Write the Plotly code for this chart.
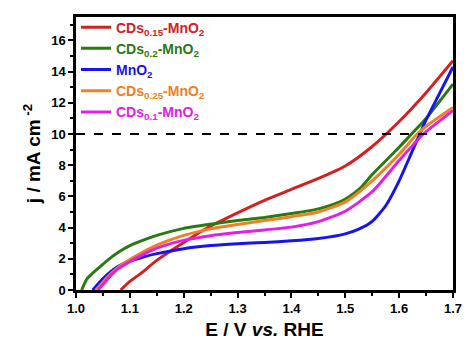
import plotly.graph_objects as go

# E (V vs RHE) and j (mA cm^-2)
E_red = [1.083, 1.10, 1.12, 1.15, 1.20, 1.25, 1.30, 1.35, 1.40, 1.45, 1.50, 1.55, 1.60, 1.65, 1.70]
j_red = [0.0, 0.55, 1.05, 1.9, 3.05, 4.1, 4.95, 5.75, 6.45, 7.15, 7.95, 9.2, 10.8, 12.65, 14.7]

E_green = [1.0105, 1.02, 1.03, 1.045, 1.06, 1.08, 1.10, 1.125, 1.15, 1.20, 1.25, 1.30, 1.35, 1.40, 1.45, 1.49, 1.51, 1.53, 1.55, 1.60, 1.623, 1.65, 1.70]
j_green = [0.0, 0.7, 1.05, 1.5, 1.95, 2.45, 2.85, 3.2, 3.5, 3.95, 4.22, 4.45, 4.65, 4.9, 5.2, 5.65, 6.05, 6.6, 7.4, 9.15, 10.0, 11.0, 13.2]

E_blue = [1.031, 1.045, 1.06, 1.08, 1.10, 1.125, 1.15, 1.20, 1.25, 1.30, 1.35, 1.40, 1.45, 1.50, 1.525, 1.55, 1.575, 1.60, 1.625, 1.65, 1.675, 1.70]
j_blue = [0.0, 0.55, 1.05, 1.55, 1.85, 2.12, 2.33, 2.65, 2.85, 2.97, 3.05, 3.15, 3.3, 3.6, 3.9, 4.4, 5.4, 7.0, 8.95, 10.9, 12.6, 14.3]

E_orange = [1.037, 1.045, 1.06, 1.08, 1.10, 1.125, 1.15, 1.20, 1.25, 1.30, 1.35, 1.40, 1.45, 1.50, 1.55, 1.60, 1.632, 1.65, 1.70]
j_orange = [0.0, 0.3, 0.9, 1.5, 1.95, 2.45, 2.88, 3.5, 3.92, 4.2, 4.45, 4.7, 5.0, 5.65, 7.0, 8.7, 9.95, 10.5, 11.7]

E_mag = [1.041, 1.05, 1.065, 1.08, 1.10, 1.125, 1.15, 1.20, 1.25, 1.30, 1.35, 1.40, 1.45, 1.50, 1.55, 1.60, 1.645, 1.70]
j_mag = [0.0, 0.35, 0.95, 1.4, 1.82, 2.28, 2.68, 3.18, 3.48, 3.68, 3.85, 4.03, 4.38, 5.05, 6.3, 8.3, 10.0, 11.5]

names = [
    '<span style="color:#d42020">CDs<sub>0.15</sub>-MnO<sub>2</sub></span>',
    '<span style="color:#2a7a12">CDs<sub>0.2</sub>-MnO<sub>2</sub></span>',
    '<span style="color:#1515f0">MnO<sub>2</sub></span>',
    '<span style="color:#f08020">CDs<sub>0.25</sub>-MnO<sub>2</sub></span>',
    '<span style="color:#e020e8">CDs<sub>0.1</sub>-MnO<sub>2</sub></span>',
]
colors = ["#d42020", "#2a7a12", "#1515f0", "#f08020", "#e020e8"]
series = [(E_red, j_red), (E_green, j_green), (E_blue, j_blue), (E_orange, j_orange), (E_mag, j_mag)]

fig = go.Figure()
for (x, y), n, c in zip(series, names, colors):
    fig.add_trace(go.Scatter(x=x, y=y, mode="lines", name=n,
                             line=dict(color=c, width=3, shape="spline", smoothing=0.6)))

fig.add_hline(y=10, line=dict(color="black", width=2, dash="dash"))

font = "Liberation Sans, Arial, sans-serif"
fig.update_layout(
    width=474, height=350,
    margin=dict(l=76, r=21, t=15, b=53),
    paper_bgcolor="white", plot_bgcolor="white",
    font=dict(family=font, color="black"),
    showlegend=True,
    legend=dict(x=0.0, y=1.02, xanchor="left", yanchor="top",
                bgcolor="rgba(0,0,0,0)", font=dict(size=14, family=font, weight="bold"),
                itemwidth=30, tracegroupgap=0, traceorder="normal"),
    xaxis=dict(range=[1.0, 1.7], dtick=0.1, tickformat=".1f",
               showline=True, linewidth=2.5, linecolor="black", mirror=True,
               ticks="outside", ticklen=5, tickwidth=2, tickcolor="black",
               minor=dict(dtick=0.05, ticks="outside", ticklen=3, tickwidth=2, tickcolor="black"),
               showgrid=False, zeroline=False,
               tickfont=dict(size=13, family=font, weight="bold"),
               title=dict(text="E / V <i>vs.</i> RHE", font=dict(size=19, family=font, weight="bold"), standoff=8)),
    yaxis=dict(range=[0, 17.5], dtick=2,
               showline=True, linewidth=2.5, linecolor="black", mirror=True,
               ticks="outside", ticklen=5, tickwidth=2, tickcolor="black",
               minor=dict(dtick=1, ticks="outside", ticklen=3, tickwidth=2, tickcolor="black"),
               showgrid=False, zeroline=False,
               tickfont=dict(size=13, family=font, weight="bold"),
               title=dict(text="j / mA cm<sup> -2</sup>", font=dict(size=19, family=font, weight="bold"), standoff=6)),
)

fig.write_html("out.html")
